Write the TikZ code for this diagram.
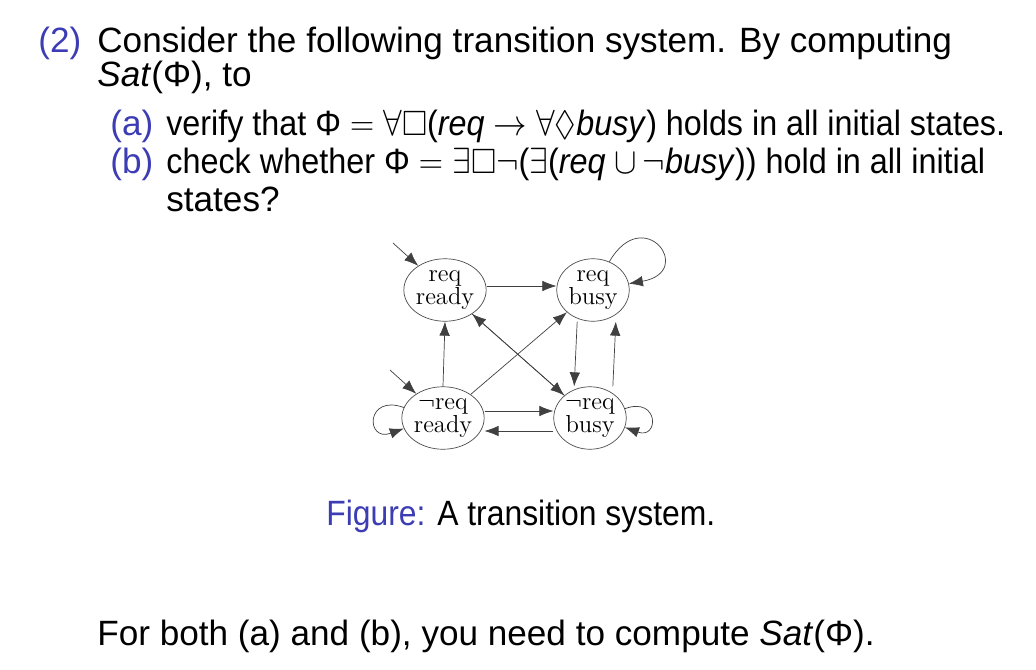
\documentclass[tikz,border=0pt]{standalone}
\usepackage{amssymb}
\usepackage{fontspec}
\setmainfont{Liberation Sans}
\setsansfont{Liberation Sans}
\usetikzlibrary{shapes.geometric,arrows.meta}
\definecolor{beam}{RGB}{60,60,180}
\newfontfamily\lmr{Latin Modern Roman}
\begin{document}
\begin{tikzpicture}[x=0.02cm,y=-0.02cm,
  txt/.style={anchor=base west,inner sep=0pt,font=\fontsize{20}{24}\selectfont},
  st/.style={ellipse,draw=black!70,minimum width=1.45cm,minimum height=1.25cm,inner sep=0pt,align=center,font=\lmr\fontsize{14}{13}\selectfont},
  tr/.style={draw=black!75,-{Latex[length=8pt,width=6pt]}}]
\useasboundingbox (0,0) rectangle (1036,670);
\node[txt,text=beam] (n2) at (38,52) {(2)};
\node[txt] (l1) at (97,52) {Consider the following transition system. By computing};
\node[txt] (l2) at (97,86) {\textit{Sat}(Φ), to};
\node[txt,text=beam] (a) at (110,135) {(a)};
\node[txt] (la) at (166,135) {\resizebox{16.78cm}{\height}{verify that Φ $=\forall\Box$(\textit{req} $\rightarrow\forall\Diamond$\textit{busy}) holds in all initial states.}};
\node[txt,text=beam] (b) at (110,173) {(b)};
\node[txt] (lb) at (166,173) {\resizebox{16.38cm}{\height}{check whether Φ $=\exists\Box\neg$($\exists$(\textit{req} $\cup\,\neg$\textit{busy})) hold in all initial}};
\node[txt] (lb2) at (166,211) {states?};
\node[txt] (cap) at (326,525) {\resizebox{7.78cm}{\height}{\textcolor{beam}{Figure:} A transition system.}};
\node[txt] (bot) at (97,645) {For both (a) and (b), you need to compute \textit{Sat}(Φ).};

\node[st] (rr) at (445,290) {req\\ready};
\node[st] (rb) at (593,290) {req\\busy};
\node[st] (nr) at (443,418) {$\neg$req\\ready};
\node[st] (nb) at (590,418) {$\neg$req\\busy};
\coordinate (i1) at (393,243);
\coordinate (i2) at (390,370);
\draw[tr] (i1) -- (rr);
\draw[tr] (i2) -- (nr);
\draw[tr] (rr.east |- 0,286) -- (rb.west |- 0,286);
\draw[tr] (nr.north) -- (rr.south);
\draw[tr] (rr) -- (nb);
\draw[tr] (nb) -- (rr);
\draw[tr] (nr) -- (rb);
\draw[tr] ([xshift=-9]rb.south) -- ([xshift=-9]nb.north);
\draw[tr] ([xshift=13]nb.north) -- ([xshift=13]rb.south);
\draw[tr] (nr.east |- 0,411) -- (nb.west |- 0,411);
\draw[tr] (nb.west |- 0,431) -- (nr.east |- 0,431);
\draw[tr] (rb.60) to[out=60,in=10,looseness=6] (rb.10);
\draw[tr] (nb.15) to[out=20,in=-20,looseness=5] (nb.-15);
\draw[tr] (nr.165) to[out=160,in=200,looseness=5] (nr.195);
\end{tikzpicture}
\end{document}
